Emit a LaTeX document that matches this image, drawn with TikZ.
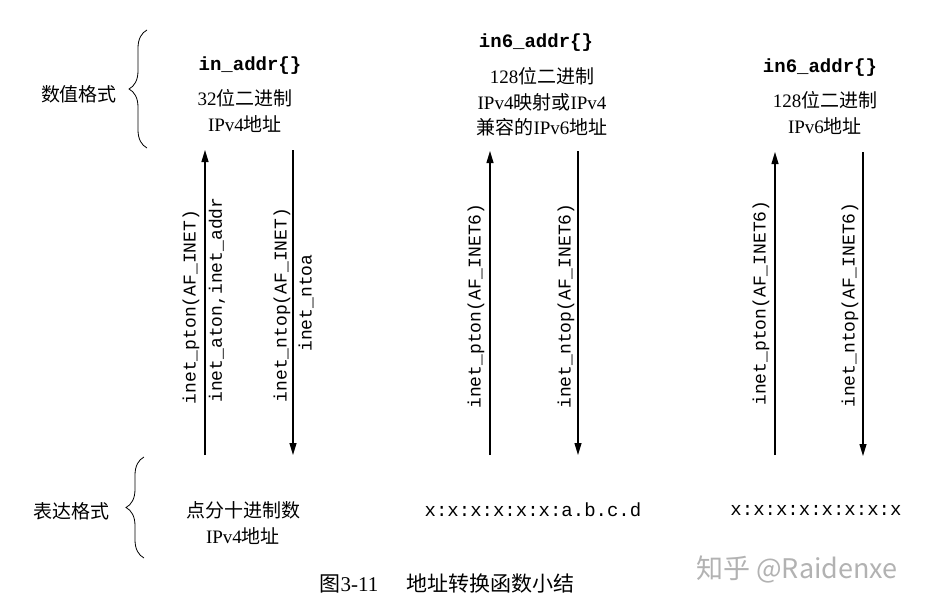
\documentclass[tikz,border=0pt]{standalone}
\usepackage{fontspec}
\setmainfont{Liberation Serif}
\setmonofont{Liberation Mono}
\newfontfamily\cjk{Noto Sans CJK SC}
\usetikzlibrary{arrows.meta,decorations.pathreplacing}
\newcommand{\zh}[1]{{\cjk #1}}
\tikzset{
  mono/.style={font=\ttfamily\fontsize{19}{22}\selectfont, inner sep=0pt},
  monob/.style={font=\ttfamily\bfseries\fontsize{19}{22}\selectfont, inner sep=0pt},
  desc/.style={font=\fontsize{19}{25.5}\selectfont, align=center, inner sep=0pt},
  fn/.style={font=\ttfamily\fontsize{18}{22}\selectfont, rotate=90, inner sep=0pt},
  conv/.style={line width=1.1pt, -{Triangle[length=12pt,width=7pt]}},
  lbrace/.style={decorate, decoration={brace, amplitude=18pt}, line width=0.8pt}
}
\begin{document}
\begin{tikzpicture}[x=1pt,y=-1pt]
\useasboundingbox (0,0) rectangle (927,610);

% Row labels and braces
\node[desc] (numfmt) at (79,94) {\zh{数值格式}};
\draw[lbrace] (147,148) -- (147,30);
\node[desc] (presfmt) at (72,511) {\zh{表达格式}};
\draw[lbrace] (144,558) -- (144,457);

% IPv4 column
\node[monob] (v4struct) at (250,66) {in\_addr\{\}};
\node[desc] (v4desc) at (245,111) {32\zh{位二进制}\\IPv4\zh{地址}};
\node[desc] (v4pres) at (243,523) {\zh{点分十进制数}\\IPv4\zh{地址}};
\coordinate (a1b) at (205,455);
\coordinate (a1t) at (205,150);
\coordinate (b1t) at (293,150);
\coordinate (b1b) at (293,455);
\draw[conv] (a1b) -- (a1t);
\draw[conv] (b1t) -- (b1b);
\node[fn] (pton4) at (191,307) {inet\_pton(AF\_INET)};
\node[fn] (aton4) at (217,300) {inet\_aton,inet\_addr};
\node[fn] (ntop4) at (282,305) {inet\_ntop(AF\_INET)};
\node[fn] (ntoa4) at (306,303) {inet\_ntoa};

% IPv4-mapped IPv6 column
\node[monob] (v6mstruct) at (536,43) {in6\_addr\{\}};
\node[desc] (v6mdesc) at (542,102) {128\zh{位二进制}\\IPv4\zh{映射或}IPv4\\\zh{兼容的}IPv6\zh{地址}};
\node[mono] (v6mpres) at (533,510) {x:x:x:x:x:x:a.b.c.d};
\coordinate (a2b) at (490,455);
\coordinate (a2t) at (490,151);
\coordinate (b2t) at (578,151);
\coordinate (b2b) at (578,455);
\draw[conv] (a2b) -- (a2t);
\draw[conv] (b2t) -- (b2b);
\node[fn] (pton6m) at (476,306) {inet\_pton(AF\_INET6)};
\node[fn] (ntop6m) at (566,306) {inet\_ntop(AF\_INET6)};

% IPv6 column
\node[monob] (v6struct) at (820,68) {in6\_addr\{\}};
\node[desc] (v6desc) at (825,113) {128\zh{位二进制}\\IPv6\zh{地址}};
\node[mono] (v6pres) at (816,510) {x:x:x:x:x:x:x:x};
\coordinate (a3b) at (775,455);
\coordinate (a3t) at (775,152);
\coordinate (b3t) at (863,152);
\coordinate (b3b) at (863,456);
\draw[conv] (a3b) -- (a3t);
\draw[conv] (b3t) -- (b3b);
\node[fn] (pton6) at (761,303) {inet\_pton(AF\_INET6)};
\node[fn] (ntop6) at (850,305) {inet\_ntop(AF\_INET6)};

% Caption and mark
\node[desc, font=\fontsize{21}{24}\selectfont] (caption) at (447,584) {\zh{图}3-11\hspace{28pt}\zh{地址转换函数小结}};
\node[font=\cjk\fontsize{27}{30}\selectfont, text=black!30, inner sep=0pt] (mark) at (797,569) {知乎 @Raidenxe};
\end{tikzpicture}
\end{document}
